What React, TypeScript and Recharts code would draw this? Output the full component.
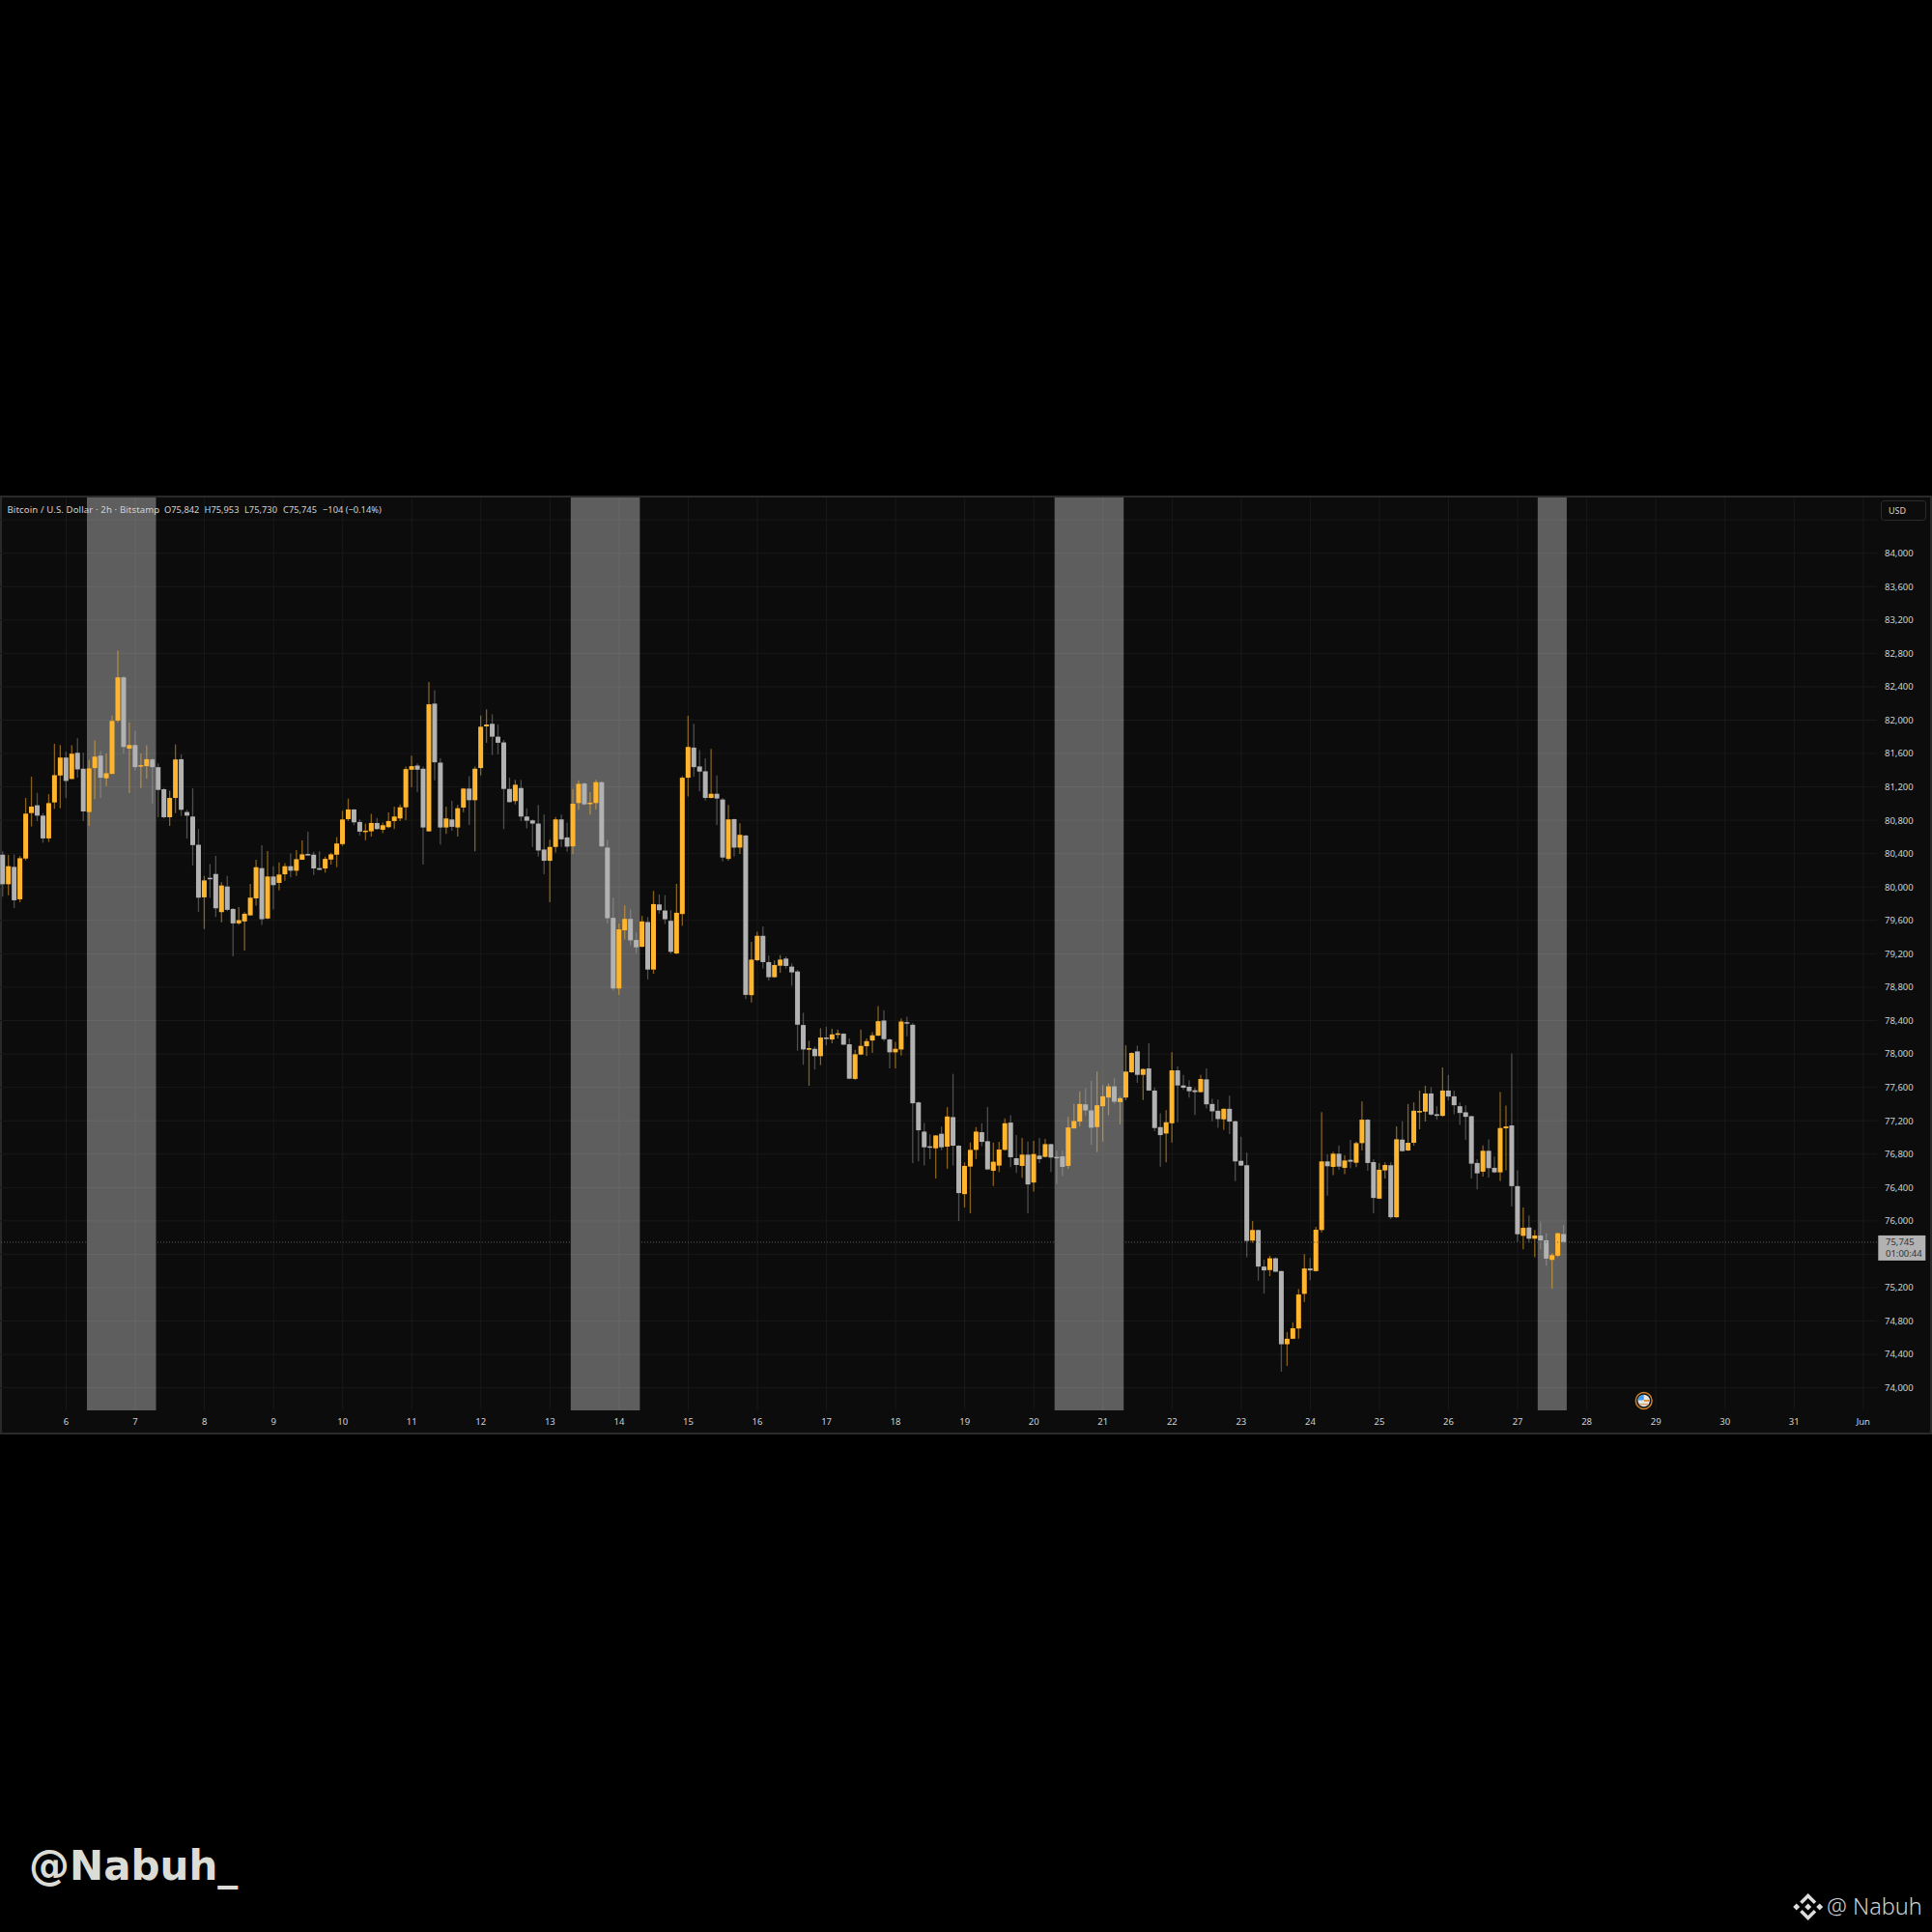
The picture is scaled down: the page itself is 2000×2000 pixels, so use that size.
import React from 'react';
import { ComposedChart, Bar, XAxis, YAxis, CartesianGrid, ReferenceArea, ReferenceLine } from 'recharts';

// BTC/USD 2h candles
const opens = [
  80388, 80034, 80242, 79854, 80342, 80887, 80980, 80856, 80583, 81014, 81337, 81552, 81295, 81609, 81418, 80899,
  81426, 81575, 81303, 81356, 81994, 82513, 81659, 81702, 81449, 81449, 81529, 81437, 81172, 80837, 81068, 81532,
  80899, 80845, 80507, 79877, 80111, 80157, 79700, 80007, 79738, 79565, 79588, 79661, 79865, 80227, 79623, 80127,
  80050, 80153, 80250, 80196, 80327, 80396, 80388, 80227, 80223, 80330, 80388, 80515, 80814, 80930, 80780, 80664,
  80668, 80768, 80687, 80718, 80791, 80822, 80956, 81406, 81456, 81418, 80668, 82198, 81491, 80714, 80810, 80714,
  80953, 81180, 81041, 81426, 81925, 81956, 81802, 81733, 81176, 81030, 81187, 80845, 80799, 80761, 80450, 80315,
  80481, 80811, 80595, 80488, 81007, 81241, 80999, 81007, 81257, 80473, 79631, 78785, 79482, 79619, 79366, 79285,
  79581, 79012, 79792, 79719, 79596, 79205, 79677, 81310, 81671, 81445, 81387, 81068, 81118, 81049, 80338, 80814,
  80473, 80618, 78705, 79124, 79416, 79101, 78920, 79058, 79143, 79047, 78989, 78347, 78051, 78062, 77974, 78197,
  78174, 78235, 78243, 78116, 77701, 77993, 78093, 78162, 78220, 78401, 78174, 78020, 78054, 78381, 78350, 77420,
  77070, 76894, 76870, 77044, 76890, 77244, 76901, 76321, 76651, 76851, 77063, 76955, 76601, 76663, 76851, 77178,
  76751, 76659, 76794, 76460, 76782, 76767, 76920, 76767, 76774, 76659, 77109, 77190, 77397, 77324, 77124, 77374,
  77478, 77612, 77424, 77478, 77781, 78031, 77750, 77827, 77562, 77124, 77047, 77170, 77804, 77623, 77608, 77566,
  77543, 77696, 77401, 77320, 77217, 77343, 77194, 76720, 76667, 75764, 75891, 75453, 75411, 75552, 75399, 74522,
  74588, 74711, 75126, 75430, 75399, 75891, 76713, 76647, 76805, 76636, 76732, 76697, 76932, 77213, 76705, 76267,
  76605, 76667, 76044, 76974, 76844, 76936, 77309, 77309, 77527, 77278, 77259, 77562, 77493, 77374, 77301, 77255,
  76694, 76590, 76840, 76636, 76582, 77109, 77144, 76417, 75821, 75921, 75787, 75825, 75767, 75533, 75583, 75842,
];
const highs = [
  80430, 80384, 80392, 80373, 81068, 81322, 81130, 80887, 81114, 81717, 81702, 81621, 81698, 81783, 81609, 81522,
  81756, 81633, 81602, 82056, 82834, 82527, 81975, 81871, 81602, 81698, 81544, 81483, 81187, 81156, 81709, 81590,
  80926, 81183, 80695, 80134, 80277, 80373, 80057, 80134, 79750, 79761, 79700, 80038, 80327, 80500, 80433, 80250,
  80296, 80288, 80403, 80442, 80560, 80664, 80423, 80430, 80365, 80411, 80599, 80914, 81060, 80934, 80810, 80760,
  80876, 80829, 80772, 80895, 80964, 80991, 81445, 81575, 81483, 81445, 82456, 82359, 81544, 80964, 81033, 80983,
  81187, 81330, 81445, 82056, 82129, 82071, 81948, 81763, 81311, 81284, 81284, 80945, 80811, 80984, 80868, 80568,
  80841, 80868, 80772, 81176, 81280, 81253, 81137, 81284, 81268, 80568, 79873, 79565, 79781, 79731, 79458, 79654,
  79642, 79954, 79911, 79904, 79723, 80038, 81330, 82052, 81956, 81640, 81544, 81656, 81337, 81068, 80984, 80818,
  80764, 80626, 79343, 79466, 79528, 79178, 79120, 79185, 79170, 79085, 79008, 78493, 78158, 78089, 78308, 78327,
  78301, 78293, 78251, 78185, 78051, 78293, 78185, 78262, 78574, 78524, 78185, 78147, 78427, 78447, 78372, 77432,
  77174, 77036, 77028, 77132, 77363, 77762, 76909, 76701, 76940, 77124, 77170, 77363, 76940, 76947, 77228, 77267,
  77028, 76994, 76951, 76959, 76994, 76982, 76924, 76844, 76844, 77247, 77401, 77550, 77589, 77677, 77789, 77627,
  77646, 77712, 77490, 78104, 78020, 78100, 77827, 78127, 77600, 77290, 77328, 78020, 77850, 77750, 77685, 77600,
  77750, 77827, 77463, 77455, 77347, 77501, 77201, 77009, 76817, 75998, 75896, 75537, 75583, 75564, 75403, 74668,
  74784, 75184, 75602, 75556, 75929, 77305, 76797, 76828, 76905, 76786, 76970, 76951, 77432, 77220, 76740, 76694,
  76701, 76701, 77132, 77194, 77401, 77420, 77562, 77620, 77604, 77374, 77839, 77750, 77562, 77420, 77386, 77259,
  76740, 76905, 76978, 76770, 77543, 77382, 78004, 76605, 76160, 76064, 75891, 75991, 75852, 75614, 75860, 75953,
];
const lows = [
  79884, 79903, 79750, 79819, 80319, 80726, 80791, 80530, 80541, 80937, 80945, 81068, 81295, 81310, 80791, 80733,
  81053, 81068, 81206, 81356, 81967, 81602, 81126, 81395, 81187, 81299, 81003, 80837, 80822, 80733, 80887, 80853,
  80580, 80257, 79704, 79497, 79873, 79642, 79577, 79711, 79170, 79550, 79239, 79661, 79777, 79546, 79615, 79730,
  79961, 80077, 80115, 80134, 80327, 80373, 80146, 80199, 80173, 80269, 80238, 80492, 80791, 80741, 80618, 80560,
  80606, 80687, 80645, 80706, 80695, 80791, 80803, 81195, 81137, 80269, 80662, 81280, 80511, 80637, 80676, 80606,
  80899, 80745, 80430, 81337, 81729, 81583, 81590, 80695, 81012, 80991, 80791, 80703, 80481, 80365, 80154, 79819,
  80415, 80481, 80423, 80396, 80926, 80982, 80868, 80930, 80479, 79565, 78758, 78708, 79374, 79305, 79208, 79278,
  78893, 78962, 79681, 79558, 79201, 79196, 79538, 81087, 81322, 81145, 81037, 81062, 80745, 80308, 80315, 80365,
  80396, 78658, 78616, 79112, 79024, 78882, 78916, 78974, 79024, 78816, 78039, 77870, 77620, 77812, 77866, 78101,
  78127, 78185, 78104, 77697, 77692, 77987, 77974, 78012, 78212, 78154, 77828, 77828, 77981, 78212, 76694, 76713,
  76663, 76740, 76509, 76847, 76624, 76663, 75998, 76160, 76091, 76740, 76894, 76609, 76417, 76586, 76844, 76644,
  76574, 76517, 76091, 76352, 76694, 76759, 76586, 76441, 76536, 76624, 77104, 77132, 77259, 76913, 76824, 76951,
  77267, 77401, 77155, 77447, 77774, 77654, 77447, 77557, 77074, 76651, 76701, 76940, 77182, 77570, 77478, 77270,
  77537, 77347, 77193, 77117, 77093, 77040, 76475, 76659, 75564, 75737, 75284, 75130, 75338, 75388, 74193, 74263,
  74583, 74588, 75030, 75291, 75393, 75864, 76302, 76547, 76613, 76559, 76632, 76644, 76844, 76601, 76091, 76261,
  76509, 76021, 76036, 76829, 76839, 76901, 77097, 77190, 77259, 77213, 77247, 77443, 77278, 77151, 76970, 76509,
  76379, 76532, 76520, 76574, 76479, 76605, 76171, 75752, 75660, 75737, 75564, 75660, 75464, 75187, 75564, 75730,
];
const closes = [
  80034, 80250, 79842, 80346, 80880, 80964, 80856, 80583, 81006, 81341, 81552, 81272, 81598, 81410, 80906, 81422,
  81563, 81310, 81364, 81990, 82513, 81679, 81702, 81437, 81460, 81532, 81437, 81164, 80837, 81068, 81529, 80926,
  80856, 80503, 79873, 80080, 80100, 79746, 80019, 79727, 79565, 79604, 79680, 79873, 80238, 79615, 80127, 80023,
  80150, 80250, 80196, 80334, 80392, 80380, 80223, 80207, 80338, 80392, 80522, 80810, 80930, 80776, 80664, 80676,
  80768, 80695, 80741, 80791, 80845, 80956, 81414, 81449, 81406, 80714, 82190, 81495, 80714, 80822, 80722, 80945,
  81180, 81041, 81418, 81921, 81948, 81802, 81729, 81176, 81018, 81226, 80845, 80795, 80761, 80438, 80315, 80481,
  80811, 80572, 80484, 80999, 81237, 80991, 81011, 81257, 80488, 79627, 78785, 79493, 79619, 79362, 79278, 79588,
  79012, 79796, 79723, 79615, 79224, 79692, 81310, 81679, 81437, 81384, 81068, 81118, 81061, 80354, 80811, 80473,
  80626, 78708, 79131, 79416, 79101, 78920, 79066, 79131, 79055, 78978, 78351, 78054, 78070, 77974, 78197, 78185,
  78235, 78247, 78112, 77704, 77997, 78097, 78154, 78224, 78393, 78178, 78020, 78062, 78389, 78366, 77409, 77086,
  76882, 76878, 77024, 76882, 77251, 76901, 76333, 76659, 76851, 77070, 76947, 76617, 76709, 76855, 77170, 76763,
  76670, 76794, 76437, 76801, 76740, 76920, 76759, 76751, 76647, 77120, 77197, 77401, 77324, 77117, 77386, 77493,
  77612, 77428, 77470, 77789, 78012, 77750, 77820, 77562, 77113, 77028, 77182, 77804, 77623, 77596, 77554, 77543,
  77700, 77397, 77313, 77220, 77343, 77190, 76713, 76663, 75760, 75891, 75453, 75407, 75552, 75391, 74522, 74588,
  74714, 75118, 75430, 75407, 75894, 76713, 76655, 76805, 76651, 76724, 76709, 76932, 77213, 76694, 76275, 76613,
  76670, 76044, 76978, 76836, 76936, 77320, 77317, 77527, 77274, 77259, 77562, 77490, 77386, 77293, 77247, 76686,
  76570, 76840, 76632, 76582, 77113, 77132, 76417, 75840, 75917, 75787, 75825, 75767, 75548, 75590, 75852, 75745,
];

const dayTicks = [6, 7, 8, 9, 10, 11, 12, 13, 14, 15, 16, 17, 18, 19, 20, 21, 22, 23, 24, 25, 26, 27, 28, 29, 30, 31, 32];
const dayLabels = ['6', '7', '8', '9', '10', '11', '12', '13', '14', '15', '16', '17', '18', '19', '20', '21', '22', '23', '24', '25', '26', '27', '28', '29', '30', '31', 'Jun'];
const gridPrices = [74000, 74400, 74800, 75200, 75600, 76000, 76400, 76800, 77200, 77600, 78000, 78400, 78800, 79200, 79600, 80000, 80400, 80800, 81200, 81600, 82000, 82400, 82800, 83200, 83600, 84000, 84400];
const priceTicks = [74000, 74400, 74800, 75200, 76000, 76400, 76800, 77200, 77600, 78000, 78400, 78800, 79200, 79600, 80000, 80400, 80800, 81200, 81600, 82000, 82400, 82800, 83200, 83600, 84000];
const shadedDays = [[6.3, 7.3], [13.3, 14.3], [20.3, 21.3], [27.29, 27.71]];
const lastPrice = 75745;

const ORANGE = '#ffb52e';
const GREY = '#b2b2b2';
const TEXT = '#d2d2d2';
const FONT = '"Noto Sans", sans-serif';

// 2h bars: 12 per day, the 12th bar of the list opens day 6
const candles = opens.map((open, i) => ({
  day: 6 + (i - 10.95) / 12,
  open,
  close: closes[i],
  range: [lows[i], highs[i]],
}));

const Candle = (props: any) => {
  const { x, y, width, height, payload } = props;
  const up = payload.close >= payload.open;
  const [low, high] = payload.range;
  const perPrice = height / (high - low);
  const top = y + (high - Math.max(payload.open, payload.close)) * perPrice;
  const bodyH = Math.max(Math.abs(payload.close - payload.open) * perPrice, 1.5);
  const cx = x + width / 2;
  return (
    <g>
      <line x1={cx} x2={cx} y1={y} y2={y + height} stroke={up ? ORANGE : GREY} strokeOpacity={up ? 0.5 : 0.4} strokeWidth={1.3} />
      <rect x={x} y={top} width={width} height={bodyH} fill={up ? ORANGE : GREY} />
    </g>
  );
};

const PriceTag = (props: any) => {
  const { viewBox } = props;
  const left = viewBox.x + viewBox.width + 1.3;
  return (
    <g fontFamily={FONT} fontSize={9.5} fill="#333333">
      <rect x={left} y={viewBox.y - 7} width={49} height={26} fill={GREY} />
      <text x={left + 7.7} y={viewBox.y + 3.3}>75,745</text>
      <text x={left + 7.7} y={viewBox.y + 14.7}>01:00:44</text>
    </g>
  );
};

const App = () => (
  <div style={{ position: 'fixed', left: 0, top: 0, width: 2000, height: 2000, background: '#000' }}>
    <div style={{ position: 'absolute', left: 0, top: 513, width: 2000, height: 972, boxSizing: 'border-box', background: '#0c0c0c', border: '2px solid #2a2a2a' }} />
    <div style={{ position: 'absolute', left: 0, top: 0 }}>
      <ComposedChart width={2000} height={2000} data={candles} margin={{ top: 515, right: 0, bottom: 517, left: 0 }}>
        <CartesianGrid stroke="#191919" horizontalValues={gridPrices} verticalValues={dayTicks} />
        <ReferenceArea x1={shadedDays[0][0]} x2={shadedDays[0][1]} fill="#ffffff" fillOpacity={0.34} />
        <ReferenceArea x1={shadedDays[1][0]} x2={shadedDays[1][1]} fill="#ffffff" fillOpacity={0.34} />
        <ReferenceArea x1={shadedDays[2][0]} x2={shadedDays[2][1]} fill="#ffffff" fillOpacity={0.34} />
        <ReferenceArea x1={shadedDays[3][0]} x2={shadedDays[3][1]} fill="#ffffff" fillOpacity={0.34} />
        <XAxis
          dataKey="day"
          type="number"
          domain={[5.0426, 32.198]}
          ticks={dayTicks}
          tickFormatter={(d: number) => dayLabels[dayTicks.indexOf(d)]}
          height={23}
          axisLine={false}
          tickLine={false}
          tick={{ fill: TEXT, fontSize: 9.5, fontFamily: FONT }}
          allowDataOverflow
        />
        <YAxis
          orientation="right"
          domain={[73730, 84668]}
          ticks={priceTicks}
          tickFormatter={(v: number) => v.toLocaleString('en-US')}
          width={57}
          axisLine={false}
          tickLine={false}
          tick={{ fill: TEXT, fontSize: 9.5, fontFamily: FONT }}
          allowDataOverflow
        />
        <ReferenceLine y={lastPrice} stroke="#5e5e5e" strokeDasharray="1 2" label={<PriceTag />} />
        <Bar dataKey="range" barSize={5} shape={<Candle />} isAnimationActive={false} />
      </ComposedChart>
    </div>
    <svg width={2000} height={2000} style={{ position: 'absolute', left: 0, top: 0, pointerEvents: 'none' }}>
      <g fontFamily={FONT} fontSize={9.3} fill={TEXT}>
        <text x={7.5} y={531} letterSpacing={0.12} fontSize={9.6}>Bitcoin / U.S. Dollar · 2h · Bitstamp</text>
        <text x={170} y={531}>O75,842</text>
        <text x={211.5} y={531}>H75,953</text>
        <text x={253} y={531}>L75,730</text>
        <text x={293} y={531}>C75,745</text>
        <text x={334} y={531}>−104 (−0.14%)</text>
        <rect x={1947.5} y={518.5} width={46} height={20} rx={3} fill="none" stroke="#2c2c2c" />
        <text x={1955} y={532} fontSize={9}>USD</text>
      </g>
      <g>
        <circle cx={1701.7} cy={1450} r={8.4} fill="#111111" stroke="#c9802a" strokeWidth={1.5} />
        <circle cx={1701.7} cy={1450} r={6.2} fill="#e4e4e4" />
        <path d="M1701.7 1443.8 A6.2 6.2 0 0 0 1695.6 1449.5 L1701.7 1449.5 Z" fill="#3f9bf0" />
        <rect x={1702} y={1449} width={5.5} height={1.8} fill="#e08a2c" />
        <rect x={1697} y={1453} width={9.5} height={1.4} fill="#d8a060" />
      </g>
      <g fill="#dcdcdc" transform="translate(1871.7 1974)">
        <path d="M0 -14 L8.5 -5.5 L6 -3 L0 -9 L-6 -3 L-8.5 -5.5 Z" />
        <path d="M0 14 L8.5 5.5 L6 3 L0 9 L-6 3 L-8.5 5.5 Z" />
        <path d="M0 -3.5 L3.5 0 L0 3.5 L-3.5 0 Z" />
        <path d="M-12 -3.5 L-8.5 0 L-12 3.5 L-15.5 0 Z" />
        <path d="M12 -3.5 L15.5 0 L12 3.5 L8.5 0 Z" />
      </g>
      <text x={1891} y={1982} fontFamily={FONT} fontSize={23.5} fontWeight={300} fill="#cfcfcf">@ Nabuh</text>
      <text x={30} y={1946} fontFamily='"DejaVu Sans"' fontSize={42} fontWeight={700} fill="#dcdcd6">@Nabuh_</text>
    </svg>
  </div>
);

export default App;
